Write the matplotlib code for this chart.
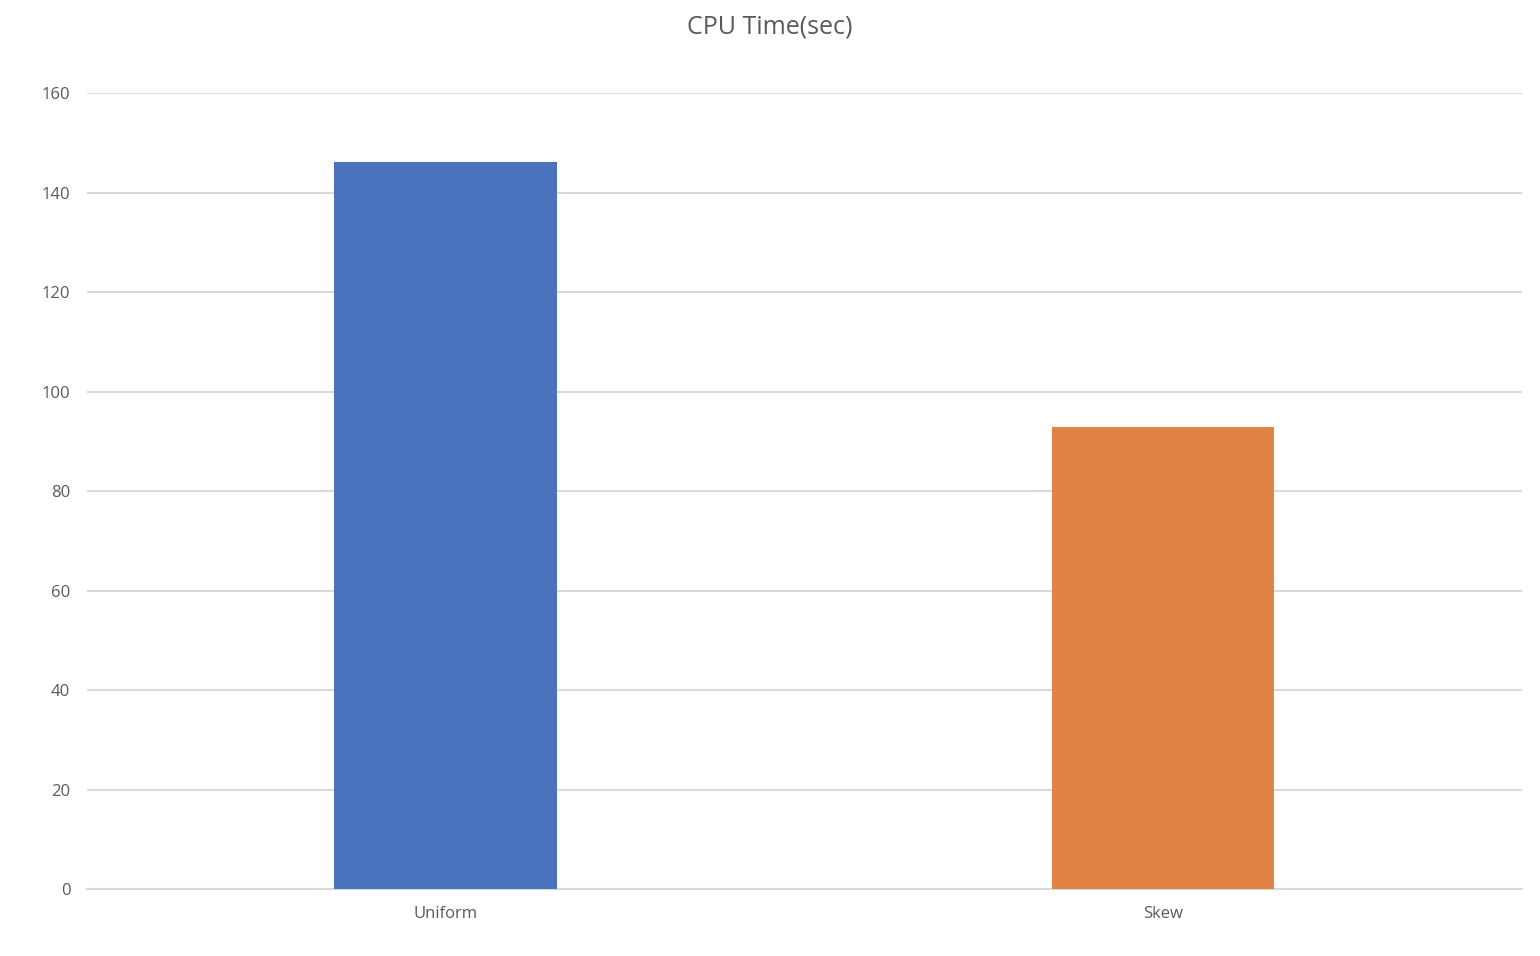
import matplotlib.pyplot as plt

categories = ['Uniform', 'Skew']
cpu_time = [146.1, 92.9]
bar_colors = ['#4a72bd', '#e08344']

plt.rcParams['font.family'] = ['Open Sans', 'DejaVu Sans']

fig = plt.figure(figsize=(15.4, 9.56), dpi=100)
ax = fig.add_axes([0.0565, 0.07, 0.9315, 0.8327])

x = range(len(categories))
ax.bar(x, cpu_time, width=0.31, color=bar_colors, zorder=3)
ax.set_xlim(-0.5, 1.5)
ax.set_ylim(0, 160)
ax.set_yticks(range(0, 161, 20))
ax.set_xticks(list(x))
ax.set_xticklabels(categories)

ax.grid(axis='y', color='#d9d9d9', linewidth=1.5, zorder=0)
for s in ['top', 'right', 'left']:
    ax.spines[s].set_visible(False)
ax.spines['bottom'].set_color('#d9d9d9')
ax.spines['bottom'].set_linewidth(1.5)
ax.tick_params(axis='both', length=0, labelsize=12, colors='#595959', pad=12)

fig.suptitle('CPU Time(sec)', fontsize=18, color='#595959', y=0.985)

fig.savefig('out.png')
